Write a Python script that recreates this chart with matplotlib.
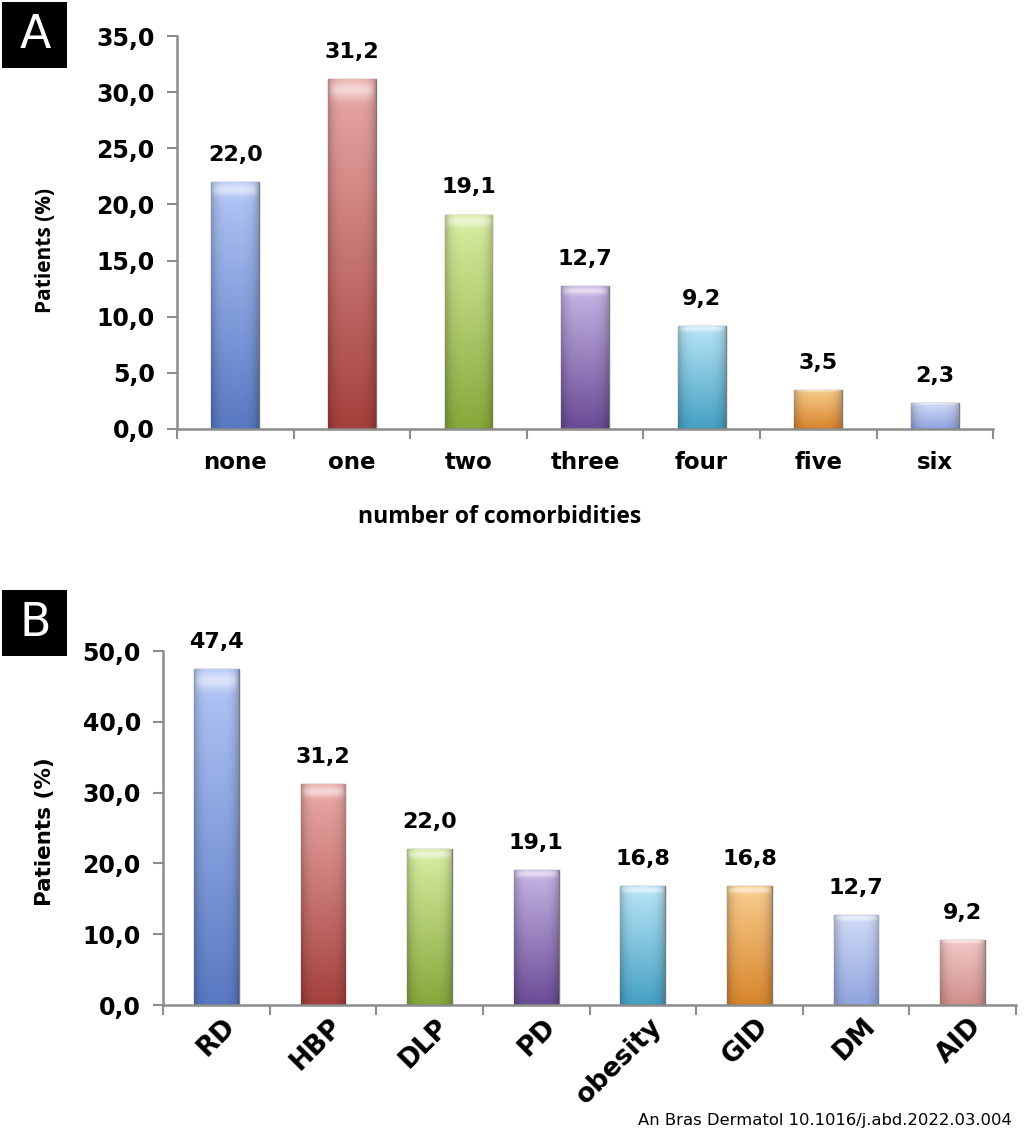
import numpy as np
import matplotlib.pyplot as plt
import matplotlib.transforms as mtransforms
from matplotlib.colors import to_rgb
from matplotlib.patches import Rectangle

# panel A: number of comorbidities
comorb_labels = ["none", "one", "two", "three", "four", "five", "six"]
comorb_values = [22.0, 31.2, 19.1, 12.7, 9.2, 3.5, 2.3]

# panel B: type of comorbidity
type_labels = ["RD", "HBP", "DLP", "PD", "obesity", "GID", "DM", "AID"]
type_values = [47.4, 31.2, 22.0, 19.1, 16.8, 16.8, 12.7, 9.2]

# (top colour, bottom colour) for the glossy bars
blue = ("#b4c8f8", "#5878c2")
red = ("#eaaaa7", "#a4403c")
green = ("#d8eea2", "#86a83a")
purple = ("#c8b6e6", "#6a4b96")
cyan = ("#b8e6f7", "#45a0c4")
orange = ("#f9cd8e", "#d8852c")
lavender = ("#d2dcf8", "#90a4de")
pink = ("#f3cac8", "#d08e8b")

colors_a = [blue, red, green, purple, cyan, orange, lavender]
colors_b = [blue, red, green, purple, cyan, orange, lavender, pink]

AXC = "#8c8c8c"
FONT = "DejaVu Sans"


def fmt(v):
    return f"{v:.1f}".replace(".", ",")


def shade_bars(ax, bars, cols):
    # paint a vertical gradient inside every bar, darker towards the edges
    for p, (top, bot) in zip(bars, cols):
        t = np.linspace(0, 1, 120)[:, None, None]
        u = np.linspace(-1, 1, 60)[None, :, None]
        img = np.array(to_rgb(top)) * (1 - t) + np.array(to_rgb(bot)) * t
        img = img * (1 - 0.22 * np.abs(u) ** 4)
        # small highlight near the top
        hl = np.exp(-((t - 0.03) / 0.025) ** 2) * (1 - np.abs(u) ** 6)
        img = img + (1 - img) * 0.55 * hl
        img = np.clip(img, 0, 1)
        x0, w, h = p.get_x(), p.get_width(), p.get_height()
        im = ax.imshow(img, extent=[x0, x0 + w, 0, h], aspect="auto",
                       origin="upper", zorder=2, interpolation="bilinear")
        im.set_clip_path(p)


def style_axes(ax, n, ymax, step, fs_tick):
    ax.set_xlim(-0.5, n - 0.5)
    ax.set_ylim(0, ymax)
    ax.set_yticks(np.arange(0, ymax + 0.01, step))
    ax.set_yticklabels([fmt(v) for v in np.arange(0, ymax + 0.01, step)],
                       fontsize=fs_tick, fontweight="bold", family=FONT)
    ax.set_xticks(np.arange(n))
    ax.set_xticks(np.arange(n + 1) - 0.5, minor=True)
    ax.tick_params(axis="x", which="major", length=0)
    ax.tick_params(axis="x", which="minor", length=7, width=1.5, color=AXC)
    ax.tick_params(axis="y", length=7, width=1.5, color=AXC, pad=9)
    for s in ["top", "right"]:
        ax.spines[s].set_visible(False)
    for s in ["left", "bottom"]:
        ax.spines[s].set_color(AXC)
        ax.spines[s].set_linewidth(1.8)


fig = plt.figure(figsize=(10.24, 11.43), dpi=100)

# ---------- panel A ----------
axA = fig.add_axes([0.1729, 0.6247, 0.7969, 0.3438])
xa = np.arange(len(comorb_values))
barsA = axA.bar(xa, comorb_values, width=0.41, color=[c[1] for c in colors_a],
                edgecolor="#7a7a7a", linewidth=1.0, zorder=1)
shade_bars(axA, barsA, colors_a)
style_axes(axA, len(comorb_values), 35, 5, 17)
axA.set_xticklabels(comorb_labels, fontsize=16.5, fontweight="bold", family=FONT)
axA.tick_params(axis="x", which="major", pad=16)
for x, v in zip(xa, comorb_values):
    axA.annotate(fmt(v), (x, v), xytext=(0, 19.5), textcoords="offset points",
                 ha="center", va="center", fontsize=16, fontweight="bold",
                 family=FONT)
axA.set_ylabel("Patients (%)", fontsize=15, fontweight="bold", family="Open Sans")
axA.yaxis.set_label_coords(-0.148, 0.455)
fig.text(500 / 1024, 1 - 517 / 1143, "number of comorbidities", ha="center",
         va="center", fontsize=16.5, fontweight="bold", family="Open Sans")

# ---------- panel B ----------
axB = fig.add_axes([0.1592, 0.1207, 0.833, 0.3097])
xb = np.arange(len(type_values))
barsB = axB.bar(xb, type_values, width=0.42, color=[c[1] for c in colors_b],
                edgecolor="#7a7a7a", linewidth=1.0, zorder=1)
shade_bars(axB, barsB, colors_b)
style_axes(axB, len(type_values), 50, 10, 17)
axB.set_xticklabels(type_labels, fontsize=19, fontweight="bold", family=FONT,
                    rotation=45, ha="right", rotation_mode="anchor")
axB.tick_params(axis="x", which="major", pad=6)
shift = mtransforms.ScaledTranslation(6 / 100, 0, fig.dpi_scale_trans)
for lab in axB.get_xticklabels():
    lab.set_transform(lab.get_transform() + shift)
for x, v in zip(xb, type_values):
    axB.annotate(fmt(v), (x, v), xytext=(0, 19.5), textcoords="offset points",
                 ha="center", va="center", fontsize=16, fontweight="bold",
                 family=FONT)
axB.set_ylabel("Patients (%)", fontsize=15.5, fontweight="bold", family=FONT)
axB.yaxis.set_label_coords(-0.127, 0.49)

# panel letters
for letter, ytop in [("A", 2), ("B", 590)]:
    fig.patches.append(Rectangle((2 / 1024, 1 - (ytop + 66) / 1143), 65 / 1024,
                                 66 / 1143, transform=fig.transFigure,
                                 fc="black", ec="none"))
    fig.text(35 / 1024, 1 - (ytop + 34) / 1143, letter, ha="center", va="center",
             fontsize=33, color="white", family="DejaVu Sans")

fig.text(1012 / 1024, 1 - 1120 / 1143, "An Bras Dermatol 10.1016/j.abd.2022.03.004",
         ha="right", va="center", fontsize=11.8, family="DejaVu Sans")

fig.savefig("out.png", dpi=100)
